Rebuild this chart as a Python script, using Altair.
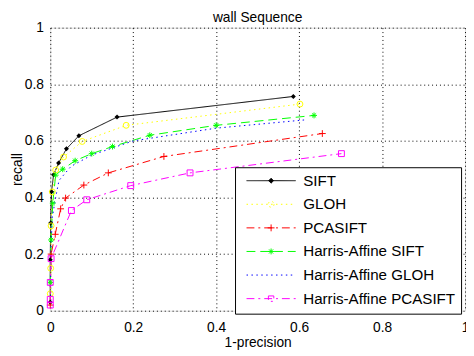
import altair as alt
import pandas as pd

series = ["SIFT", "GLOH", "PCASIFT", "Harris-Affine SIFT", "Harris-Affine GLOH", "Harris-Affine PCASIFT"]
colors = ["#000000", "#ffff00", "#ff0000", "#00ff00", "#0000ff", "#ff00ff"]
dashes = [[1, 0], [1.5, 3.5], [8, 4, 2, 4], [9, 5], [1.5, 3.5], [8, 4, 2, 4]]

sift_x = [0.0, 0.0, 0.001, 0.003, 0.008, 0.020, 0.039, 0.069, 0.161, 0.586]
sift_y = [0.03, 0.18, 0.31, 0.42, 0.48, 0.522, 0.572, 0.618, 0.684, 0.757]
gloh_x = [0.0, 0.001, 0.002, 0.005, 0.013, 0.032, 0.077, 0.183, 0.602]
gloh_y = [0.06, 0.15, 0.30, 0.42, 0.497, 0.543, 0.598, 0.655, 0.730]
pca_x = [0.0, 0.002, 0.012, 0.025, 0.037, 0.081, 0.140, 0.274, 0.656]
pca_y = [0.02, 0.20, 0.27, 0.36, 0.398, 0.444, 0.487, 0.545, 0.626]
hasift_x = [0.0, 0.002, 0.006, 0.013, 0.03, 0.06, 0.10, 0.15, 0.24, 0.40, 0.636]
hasift_y = [0.10, 0.25, 0.38, 0.479, 0.50, 0.53, 0.555, 0.58, 0.62, 0.655, 0.690]
hagloh_x = [0.0, 0.001, 0.005, 0.013, 0.021, 0.05, 0.10, 0.20, 0.40, 0.62]
hagloh_y = [0.05, 0.20, 0.33, 0.40, 0.46, 0.51, 0.55, 0.60, 0.645, 0.675]
hapca_x = [0.0, 0.0, 0.0, 0.002, 0.051, 0.088, 0.194, 0.337, 0.702]
hapca_y = [0.02, 0.04, 0.10, 0.184, 0.354, 0.392, 0.442, 0.487, 0.555]

xs = [sift_x, gloh_x, pca_x, hasift_x, hagloh_x, hapca_x]
ys = [sift_y, gloh_y, pca_y, hasift_y, hagloh_y, hapca_y]

rows = []
for name, sx, sy in zip(series, xs, ys):
    for i, (a, b) in enumerate(zip(sx, sy)):
        rows.append({"series": name, "x": a, "y": b, "idx": i})
df = pd.DataFrame(rows)

# marker shapes for the plotted points (unit paths, scaled by sqrt(size)/2); None = no marker
marker_shapes = [
    "M0,-0.85L0.85,0L0,0.85L-0.85,0Z",
    "circle",
    "M-1.15,0L1.15,0M0,-1.15L0,1.15",
    "M-1,0L1,0M0,-1L0,1M-0.7,-0.7L0.7,0.7M-0.7,0.7L0.7,-0.7",
    None,
    "square",
]
marker_filled = [True, False, False, False, False, False]

# legend symbols: line segment + marker (units of 5 px, symbolSize 100)
c = 4.6
line_seg = f"M{c-5:.2f},0L{c+5:.2f},0"
leg_markers = [
    f"M{c},-0.5L{c+0.5},0L{c},0.5L{c-0.5},0Z",
    f"M{c+0.6},0A0.6,0.6 0 1,1 {c-0.6},0A0.6,0.6 0 1,1 {c+0.6},0Z",
    f"M{c-0.7},0L{c+0.7},0M{c},-0.7L{c},0.7",
    f"M{c-0.6},0L{c+0.6},0M{c},-0.6L{c},0.6M{c-0.42},-0.42L{c+0.42},0.42M{c-0.42},0.42L{c+0.42},-0.42",
    "",
    f"M{c-0.55},-0.55L{c+0.55},-0.55L{c+0.55},0.55L{c-0.55},0.55Z",
]
leg_paths = [line_seg + m for m in leg_markers]

shape_expr = ""
for name, p in zip(series[:-1], leg_paths[:-1]):
    shape_expr += f"datum.value === '{name}' ? '{p}' : "
shape_expr += f"'{leg_paths[-1]}'"

ticks = [0, 0.2, 0.4, 0.6, 0.8, 1]

def make_axis(lp, tp):
    return alt.Axis(values=ticks, format="~g", grid=True, gridColor="black",
                    gridDash=[1, 3], gridOpacity=1, gridWidth=1, domain=False,
                    ticks=False, tickSize=0, labelFontSize=14, labelColor="black",
                    labelPadding=lp, titleFontSize=14, titleFontWeight="normal",
                    titleColor="black", titlePadding=tp, labelFlush=False,
                    labelOverlap=False, labelFont="Liberation Sans",
                    titleFont="Liberation Sans")

xenc = alt.X("x:Q", scale=alt.Scale(domain=[0, 1], nice=False), axis=make_axis(10, 1), title="1-precision")
yenc = alt.Y("y:Q", scale=alt.Scale(domain=[0, 1], nice=False), axis=make_axis(7, 0), title="recall")

legend = alt.Legend(
    orient="none", legendX=188, legendY=142, title=None,
    strokeColor="black", fillColor="white", padding=6, cornerRadius=0,
    labelFontSize=15.4, labelFont="Liberation Sans", labelColor="black",
    labelLimit=300, rowPadding=7, labelOffset=48, symbolSize=100,
    symbolStrokeWidth=1, symbolOpacity=1,
    symbolType={"expr": shape_expr},
    symbolFillColor={"expr": "datum.value === 'SIFT' ? 'black' : 'transparent'"},
)

lines = alt.Chart(df).mark_line(strokeWidth=1).encode(
    x=xenc, y=yenc,
    color=alt.Color("series:N", scale=alt.Scale(domain=series, range=colors), legend=legend),
    strokeDash=alt.StrokeDash("series:N", scale=alt.Scale(domain=series, range=dashes), legend=None),
    order="idx:Q",
)

layers = [lines]
for name, col, shp, fl in zip(series, colors, marker_shapes, marker_filled):
    if shp is None:
        continue
    layers.append(
        alt.Chart(df).transform_filter(alt.datum.series == name)
        .mark_point(shape=shp, size=36, strokeWidth=1, opacity=1, filled=fl, color=col)
        .encode(x=xenc, y=yenc)
    )

chart = alt.layer(*layers).properties(
    width=422, height=288,
    autosize=alt.AutoSizeParams(type="none"),
    padding={"left": 43, "top": 17, "right": 1, "bottom": 40},
    title=alt.Title("wall Sequence", fontSize=14, fontWeight="normal", color="black",
                    offset=3, dy=7, anchor="middle", font="Liberation Sans"),
).configure_view(stroke="black", strokeWidth=1).configure(font="Liberation Sans")

chart.save("out.html", embed_options={"renderer": "svg", "actions": False})
